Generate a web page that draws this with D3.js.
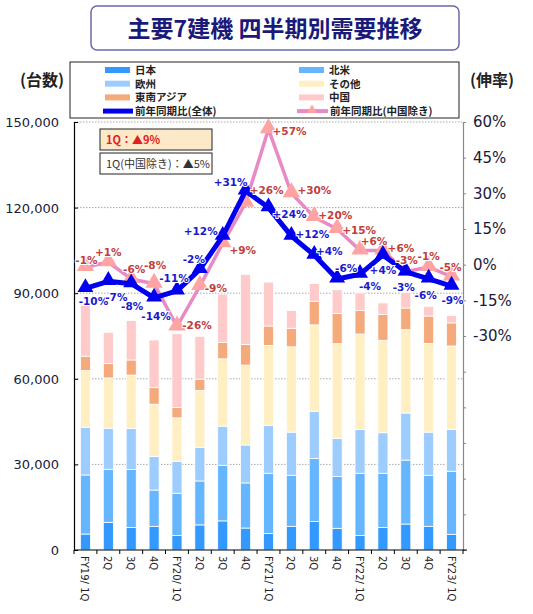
<!DOCTYPE html>
<html lang="ja">

<head>
    <meta charset="UTF-8">
    <script src='https://cdnjs.cloudflare.com/ajax/libs/d3/7.8.5/d3.min.js'></script>
    <title>主要7建機 四半期別需要推移</title>
    <style>
        body { margin: 0; background: #fff; }
        text { font-family: "DejaVu Sans", Verdana, sans-serif; }
        .jp { font-family: "Noto Sans CJK JP", sans-serif; }
    </style>
</head>

<body>
    <div id='plot'></div>
</body>

<script>
    // categories
    var quarters = ["FY19/ 1Q", "2Q", "3Q", "4Q", "FY20/ 1Q", "2Q", "3Q", "4Q", "FY21/ 1Q",
        "2Q", "3Q", "4Q", "FY22/ 1Q", "2Q", "3Q", "4Q", "FY23/ 1Q"];
    // demand by region (units)
    var japan = [5600, 9700, 7900, 8300, 5100, 8800, 10200, 7700, 5800, 8300, 10000, 7600, 5100, 7900, 9100, 8300, 5500];
    var northAmerica = [20700, 18600, 20300, 12700, 14800, 15400, 19500, 15800, 21100, 17900, 22100, 18200, 21800, 19000, 22400, 17900, 22100];
    var europe = [16700, 14400, 14400, 11800, 11200, 11800, 13700, 13300, 16800, 15100, 16500, 13300, 15300, 14200, 16500, 15100, 14700];
    var others = [19900, 17600, 18700, 18300, 15200, 19900, 23600, 28000, 28000, 29900, 30300, 33200, 33500, 32400, 29200, 31100, 29200];
    var seAsia = [5000, 5100, 5300, 5800, 3600, 4000, 5800, 7200, 6800, 6500, 8300, 10600, 8200, 9100, 7600, 9600, 8100];
    var china = [17800, 10900, 13800, 16700, 25900, 15000, 16900, 24600, 15400, 6200, 6200, 8300, 6200, 4000, 5400, 3400, 2600];
    // year-on-year growth (%)
    var yoyAll = [-10, -7, -8, -14, -11, -2, 12, 31, 24, 12, 4, -6, -4, 4, -3, -6, -9];
    var yoyExChina = [-1, 1, -6, -8, -26, -9, 9, 26, 57, 30, 20, 15, 6, 6, -3, -1, -5];
    // axis ticks
    var leftTicks = [0, 30000, 60000, 90000, 120000, 150000];
    var rightTicks = [60, 45, 30, 15, 0, -15, -30, -45, -60, -75, -90, -105, -120];
    var rightLabelled = [60, 45, 30, 15, 0, -15, -30];

    var regions = [
        { key: "japan", name: "日本", color: "#3399ff", values: japan },
        { key: "na", name: "北米", color: "#66b5ff", values: northAmerica },
        { key: "eu", name: "欧州", color: "#9dcdff", values: europe },
        { key: "other", name: "その他", color: "#ffefc2", values: others },
        { key: "sea", name: "東南アジア", color: "#f5aa7c", values: seAsia },
        { key: "china", name: "中国", color: "#ffcaca", values: china }
    ];

    // label offsets from each point (px)
    var allLabelOff = [[8, 13], [8, 16], [1, 22], [2, 18], [-3, -13], [-6, -10], [-22, -5], [-15, -9],
        [21, 6], [21, -2], [15, -4], [9, -11], [10, 12], [0, 15], [-2, 15], [-3, 16], [1, 14]];
    var exLabelOff = [[1, -7], [0, -10], [3, -10], [1, -19], [20, -1], [16, 2], [20, 7], [21, -13],
        [21, 2], [23, -3], [21, -2], [22, 1], [14, -9], [18, -2], [1, -12], [0, -11], [-1, -10]];

    var W = 533, H = 614;
    var plot = { left: 74, right: 463, top: 122, bottom: 550 };

    var svg = d3.select("#plot")
        .append("svg")
        .attr("width", W)
        .attr("height", H);

    // title box
    svg.append("rect")
        .attr("x", 91).attr("y", 6).attr("width", 368).attr("height", 44)
        .attr("rx", 6)
        .attr("fill", "#fff").attr("stroke", "#6a6aa8").attr("stroke-width", 1.5);
    svg.append("text").attr("class", "jp")
        .attr("x", 275).attr("y", 37)
        .attr("text-anchor", "middle")
        .attr("font-size", 23).attr("font-weight", "bold")
        .attr("fill", "#1a1a7a")
        .text("主要7建機 四半期別需要推移");

    // unit labels
    svg.append("text").attr("class", "jp")
        .attr("x", 42).attr("y", 86).attr("text-anchor", "middle")
        .attr("font-size", 16).attr("font-weight", "bold").attr("fill", "#222")
        .text("(台数)");
    svg.append("text").attr("class", "jp")
        .attr("x", 492).attr("y", 86).attr("text-anchor", "middle")
        .attr("font-size", 16).attr("font-weight", "bold").attr("fill", "#222")
        .text("(伸率)");

    // (1) scales
    var x = d3.scaleBand()
        .domain(d3.range(quarters.length))
        .range([plot.left, plot.right])
        .paddingInner(0.56)
        .paddingOuter(0.28);
    var xc = i => x(i) + x.bandwidth() / 2;
    var y = d3.scaleLinear().domain([0, 150000]).range([plot.bottom, plot.top]);
    var y2 = d3.scaleLinear().domain([-120, 60]).range([plot.bottom, plot.top]);

    // gridlines
    svg.append("g")
        .selectAll("line")
        .data(leftTicks.filter(d => d > 0))
        .enter()
        .append("line")
        .attr("x1", plot.left).attr("x2", plot.right)
        .attr("y1", d => y(d)).attr("y2", d => y(d))
        .attr("stroke", "#aaa").attr("stroke-dasharray", "1.5,1.5");

    // (2) stacked bars
    var table = quarters.map((q, i) => {
        var row = { i: i };
        regions.forEach(r => row[r.key] = r.values[i]);
        return row;
    });
    var stack = d3.stack().keys(regions.map(r => r.key))(table);
    svg.append("g")
        .selectAll("g")
        .data(stack)
        .enter()
        .append("g")
        .attr("fill", (d, k) => regions[k].color)
        .selectAll("rect")
        .data(d => d)
        .enter()
        .append("rect")
        .attr("x", d => x(d.data.i))
        .attr("width", x.bandwidth())
        .attr("y", d => y(d[1]))
        .attr("height", d => y(d[0]) - y(d[1]))
        .attr("stroke", "#fff")
        .attr("stroke-width", 0.8);

    // (3) axes
    var leftAxis = svg.append("g")
        .attr("transform", "translate(" + plot.left + ",0)")
        .call(d3.axisRight(y).tickValues(leftTicks).tickSize(4).tickFormat(""));
    leftAxis.select(".domain").attr("stroke", "#000").attr("stroke-width", 1.2);
    leftAxis.selectAll(".tick line").attr("stroke", "#000");
    svg.append("g")
        .selectAll("text")
        .data(leftTicks)
        .enter()
        .append("text")
        .attr("x", plot.left - 15).attr("y", d => y(d) + 5)
        .attr("text-anchor", "end")
        .attr("font-size", 13).attr("fill", "#1a1a3a")
        .text(d => d3.format(",")(d));

    var rightAxis = svg.append("g")
        .attr("transform", "translate(" + plot.right + ",0)")
        .call(d3.axisRight(y2).tickValues(rightTicks).tickSize(3).tickSizeOuter(0)
            .tickFormat(d => rightLabelled.includes(d) ? d + "%" : ""));
    rightAxis.select(".domain").attr("stroke", "#888").attr("stroke-width", 1.2);
    rightAxis.selectAll(".tick line").attr("stroke", "#888");
    rightAxis.selectAll(".tick text")
        .attr("x", 10)
        .attr("font-size", 15).attr("fill", "#1a1a3a")
        .style("font-family", "DejaVu Sans, Verdana, sans-serif");

    var bottomAxis = svg.append("g")
        .attr("transform", "translate(0," + plot.bottom + ")");
    bottomAxis.append("line")
        .attr("x1", plot.left).attr("x2", plot.right + 4)
        .attr("stroke", "#000").attr("stroke-width", 1.2);
    bottomAxis.selectAll("line.tk")
        .data(d3.range(quarters.length + 1))
        .enter()
        .append("line").attr("class", "tk")
        .attr("x1", i => plot.left + i * x.step()).attr("x2", i => plot.left + i * x.step())
        .attr("y1", 0).attr("y2", 4)
        .attr("stroke", "#000");
    bottomAxis.selectAll("text")
        .data(quarters)
        .enter()
        .append("text")
        .attr("transform", (d, i) => "translate(" + (xc(i) - 4) + ",6) rotate(90)")
        .attr("font-size", 10).attr("fill", "#222")
        .text(d => d);

    // (4) lines
    var tri = d3.symbol().type(d3.symbolTriangle);
    function drawLine(values, lineColor, markColor, width, size) {
        var line = d3.line().x((d, i) => xc(i)).y(d => y2(d));
        svg.append("path")
            .datum(values)
            .attr("d", line)
            .attr("fill", "none")
            .attr("stroke", lineColor)
            .attr("stroke-width", width)
            .attr("stroke-linejoin", "round");
        svg.append("g")
            .selectAll("path")
            .data(values)
            .enter()
            .append("path")
            .attr("d", tri.size(size)())
            .attr("transform", (d, i) => "translate(" + xc(i) + "," + (y2(d) - 1) + ")")
            .attr("fill", markColor);
    }
    drawLine(yoyExChina, "#e98ac4", "#ffa3a3", 3.5, 130);
    drawLine(yoyAll, "#0000ee", "#0000ee", 5, 110);

    function fmt(v) { return (v > 0 ? "+" : "") + v + "%"; }
    function drawLabels(values, offs, color) {
        svg.append("g")
            .selectAll("text")
            .data(values)
            .enter()
            .append("text")
            .attr("x", (d, i) => xc(i) + offs[i][0])
            .attr("y", (d, i) => y2(d) + offs[i][1] + 4)
            .attr("text-anchor", "middle")
            .attr("font-size", 10.5).attr("font-weight", "bold")
            .attr("fill", color)
            .attr("stroke", "#fff").attr("stroke-width", 2).attr("paint-order", "stroke")
            .text(d => fmt(d));
    }
    drawLabels(yoyExChina, exLabelOff, "#c0403c");
    drawLabels(yoyAll, allLabelOff, "#1a1acc");

    // (5) annotation boxes
    svg.append("rect")
        .attr("x", 100).attr("y", 129).attr("width", 112).attr("height", 21)
        .attr("fill", "#fde9c8").attr("stroke", "#222");
    svg.append("text").attr("class", "jp")
        .attr("x", 106).attr("y", 144)
        .attr("font-size", 11).attr("font-weight", "bold").attr("fill", "#e02020")
        .text("1Q：▲9%");
    svg.append("rect")
        .attr("x", 100).attr("y", 153).attr("width", 112).attr("height", 21)
        .attr("fill", "#fff").attr("stroke", "#222");
    svg.append("text").attr("class", "jp")
        .attr("x", 106).attr("y", 168)
        .attr("font-size", 11).attr("fill", "#333")
        .text("1Q(中国除き)：▲5%");

    // (6) legend
    var legend = svg.append("g");
    legend.append("rect")
        .attr("x", 70).attr("y", 62).attr("width", 389).attr("height", 56)
        .attr("fill", "#fff").attr("stroke", "#222");
    legend.selectAll("g.item")
        .data(regions)
        .enter()
        .append("g").attr("class", "item")
        .attr("transform", (d, k) => "translate(" + (k % 2 ? 299 : 105) + "," + (70 + Math.floor(k / 2) * 13.7) + ")")
        .each(function (d) {
            var g = d3.select(this);
            g.append("rect").attr("x", 0).attr("y", -3).attr("width", 25).attr("height", 6).attr("fill", d.color);
            g.append("text").attr("class", "jp").attr("x", 30).attr("y", 4)
                .attr("font-size", 10.5).attr("font-weight", "bold").attr("fill", "#222").text(d.name);
        });
    var ly = 70 + 3 * 13.7;
    legend.append("line")
        .attr("x1", 103).attr("x2", 133).attr("y1", ly).attr("y2", ly)
        .attr("stroke", "#0000ee").attr("stroke-width", 5);
    legend.append("text").attr("class", "jp").attr("x", 135).attr("y", ly + 4)
        .attr("font-size", 10.5).attr("font-weight", "bold").attr("fill", "#222").text("前年同期比(全体)");
    legend.append("line")
        .attr("x1", 297).attr("x2", 328).attr("y1", ly).attr("y2", ly)
        .attr("stroke", "#e98ac4").attr("stroke-width", 4);
    legend.append("path")
        .attr("d", tri.size(40)())
        .attr("transform", "translate(312," + (ly - 1) + ")")
        .attr("fill", "#ffa3a3");
    legend.append("text").attr("class", "jp").attr("x", 330).attr("y", ly + 4)
        .attr("font-size", 10.5).attr("font-weight", "bold").attr("fill", "#222").text("前年同期比(中国除き)");
</script>

</html>
